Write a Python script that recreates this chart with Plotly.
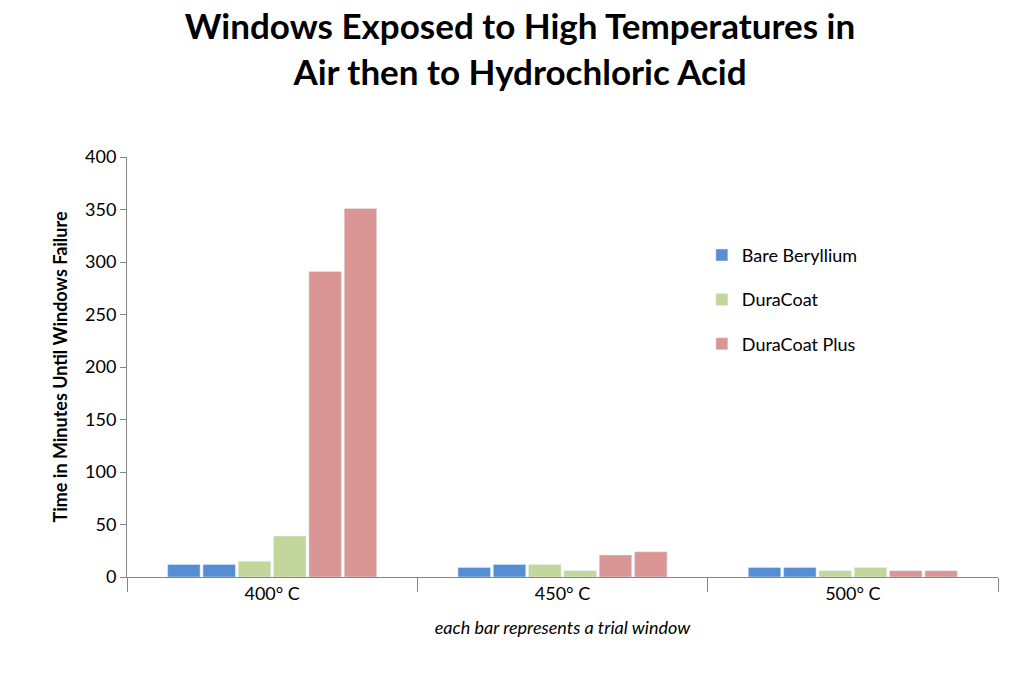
import plotly.graph_objects as go

temps = ["400° C", "450° C", "500° C"]
bare_t1 = [12, 9, 9]
bare_t2 = [12, 12, 9]
dura_t1 = [15, 12, 6]
dura_t2 = [39, 6, 9]
plus_t1 = [291, 21, 6]
plus_t2 = [351, 24, 6]

series = [
    ("Bare Beryllium", "#558ED5", [bare_t1, bare_t2]),
    ("DuraCoat", "#C3D69B", [dura_t1, dura_t2]),
    ("DuraCoat Plus", "#D99694", [plus_t1, plus_t2]),
]

fig = go.Figure()
for name, color, trials in series:
    for i, vals in enumerate(trials):
        fig.add_trace(go.Bar(
            x=temps, y=vals, name=name, marker_color=color,
            legendgroup=name, showlegend=(i == 0),
        ))

font = "Lato, 'Open Sans', sans-serif"
fig.update_layout(
    width=1024, height=691,
    paper_bgcolor="white", plot_bgcolor="white",
    font=dict(family=font, size=18, color="black"),
    title=dict(text="<b>Windows Exposed to High Temperatures in<br>Air then to Hydrochloric Acid</b>",
               x=0.5, xanchor="center", y=0.955, yanchor="top",
               font=dict(size=35, family=font)),
    margin=dict(l=119, r=34, t=149, b=122),
    barmode="group", bargap=0.27, bargroupgap=0.08,
    legend=dict(x=0.66, y=0.81, xanchor="left", yanchor="top",
                tracegroupgap=18, font=dict(size=18)),
    xaxis=dict(showline=True, linecolor="#868686", ticks="outside",
               tickson="boundaries", ticklen=14, tickcolor="#868686",
               title=dict(text="<i>each bar represents a trial window</i>",
                          font=dict(size=18), standoff=18)),
    yaxis=dict(range=[0, 400], dtick=50, showline=True, linecolor="#868686",
               ticks="outside", ticklen=6, tickcolor="#868686", showgrid=False,
               title=dict(text="<b>Time in Minutes Until Windows Failure</b>",
                          font=dict(size=18), standoff=12)),
)

fig.write_html("out.html")
